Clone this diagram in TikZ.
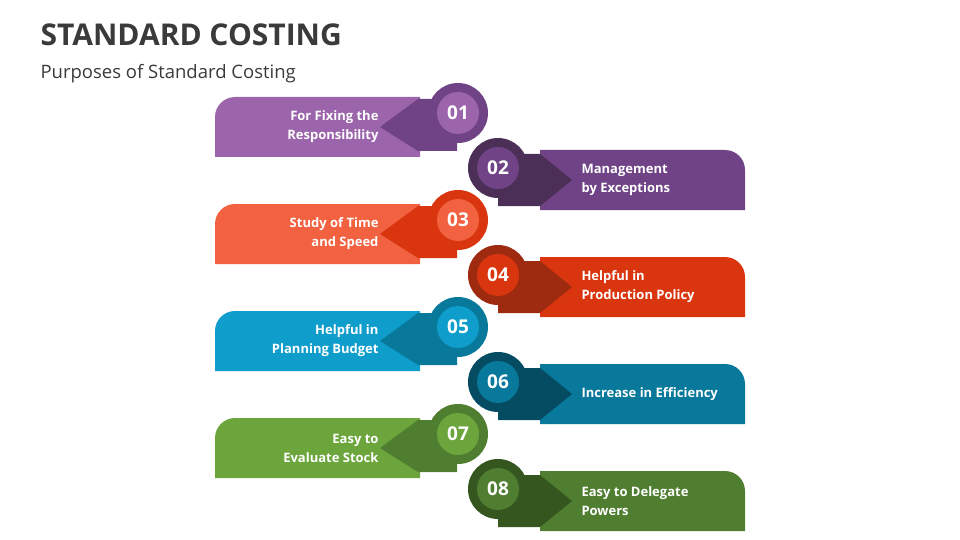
\documentclass[tikz,border=0pt]{standalone}
\usepackage{fontspec}
\setmainfont{Open Sans}
\usetikzlibrary{positioning,calc}
\definecolor{purpleA}{HTML}{9B64AB}
\definecolor{purpleB}{HTML}{6F4385}
\definecolor{purpleC}{HTML}{4B2F57}
\definecolor{orangeA}{HTML}{F26140}
\definecolor{orangeB}{HTML}{D9360F}
\definecolor{orangeC}{HTML}{9E2A10}
\definecolor{blueA}{HTML}{0F9DCB}
\definecolor{blueB}{HTML}{08789B}
\definecolor{blueC}{HTML}{054C62}
\definecolor{greenA}{HTML}{6BA53C}
\definecolor{greenB}{HTML}{507E31}
\definecolor{greenC}{HTML}{35561E}
\definecolor{titlegray}{HTML}{3A3A3A}
\tikzset{
  numring/.style={circle, minimum size=60pt, inner sep=0pt},
  numdisc/.style={circle, minimum size=42pt, inner sep=0pt, text=white, font=\fontsize{19}{19}\selectfont\bfseries},
  bantext/.style={text=white, font=\fontsize{13}{19}\selectfont\bfseries},
}
\begin{document}
\begin{tikzpicture}[x=1pt,y=-1pt]
    \useasboundingbox (0,0) rectangle (960,540);
    % Title
    \node[anchor=west, text=titlegray, font=\fontsize{30}{30}\selectfont\bfseries] (title) at (37,35) {STANDARD COSTING};
    \node[anchor=west, text=titlegray, font=\fontsize{18.5}{18.5}\selectfont] (subtitle) at (37,74) {Purposes of Standard Costing};

    % Left items
    \foreach \n/\y/\ca/\cb/\txt in {01/113/purpleA/purpleB/{For Fixing the\\Responsibility},
                                    03/220/orangeA/orangeB/{Study of Time\\and Speed},
                                    05/327/blueA/blueB/{Helpful in\\Planning Budget},
                                    07/434/greenA/greenB/{Easy to\\Evaluate Stock}}{
      \fill[\ca] (215,\y+44) -- (215,\y+4) arc[start angle=180, end angle=270, radius=20] -- (420,\y-16) -- (420,\y+44) -- cycle;
      \fill[\cb] (380,\y+14) -- (418,\y-14) -- (457,\y-14) -- (457,\y+38) -- (418,\y+38) -- cycle;
      \node[numring, fill=\cb] (ring\n) at (458,\y) {};
      \node[numdisc, fill=\ca] (num\n) at (ring\n) {\n};
      \node[bantext, align=right, anchor=east] (lab\n) at (382,\y+14) {\txt};
    }

    % Right items
    \foreach \n/\y/\ca/\cb/\txt in {02/168/purpleB/purpleC/{Management\\by Exceptions},
                                    04/275/orangeB/orangeC/{Helpful in\\Production Policy},
                                    06/382/blueB/blueC/{Increase in Efficiency},
                                    08/489/greenB/greenC/{Easy to Delegate\\Powers}}{
      \fill[\ca] (540,\y-18) -- (725,\y-18) arc[start angle=270, end angle=360, radius=20] -- (745,\y+42) -- (540,\y+42) -- cycle;
      \fill[\cb] (498,\y-14) -- (540,\y-14) -- (572,\y+12) -- (540,\y+38) -- (498,\y+38) -- cycle;
      \node[numring, fill=\cb] (ring\n) at (498,\y) {};
      \node[numdisc, fill=\ca] (num\n) at (ring\n) {\n};
      \node[bantext, align=left, anchor=west] (lab\n) at (578,\y+12) {\txt};
    }
\end{tikzpicture}
\end{document}
